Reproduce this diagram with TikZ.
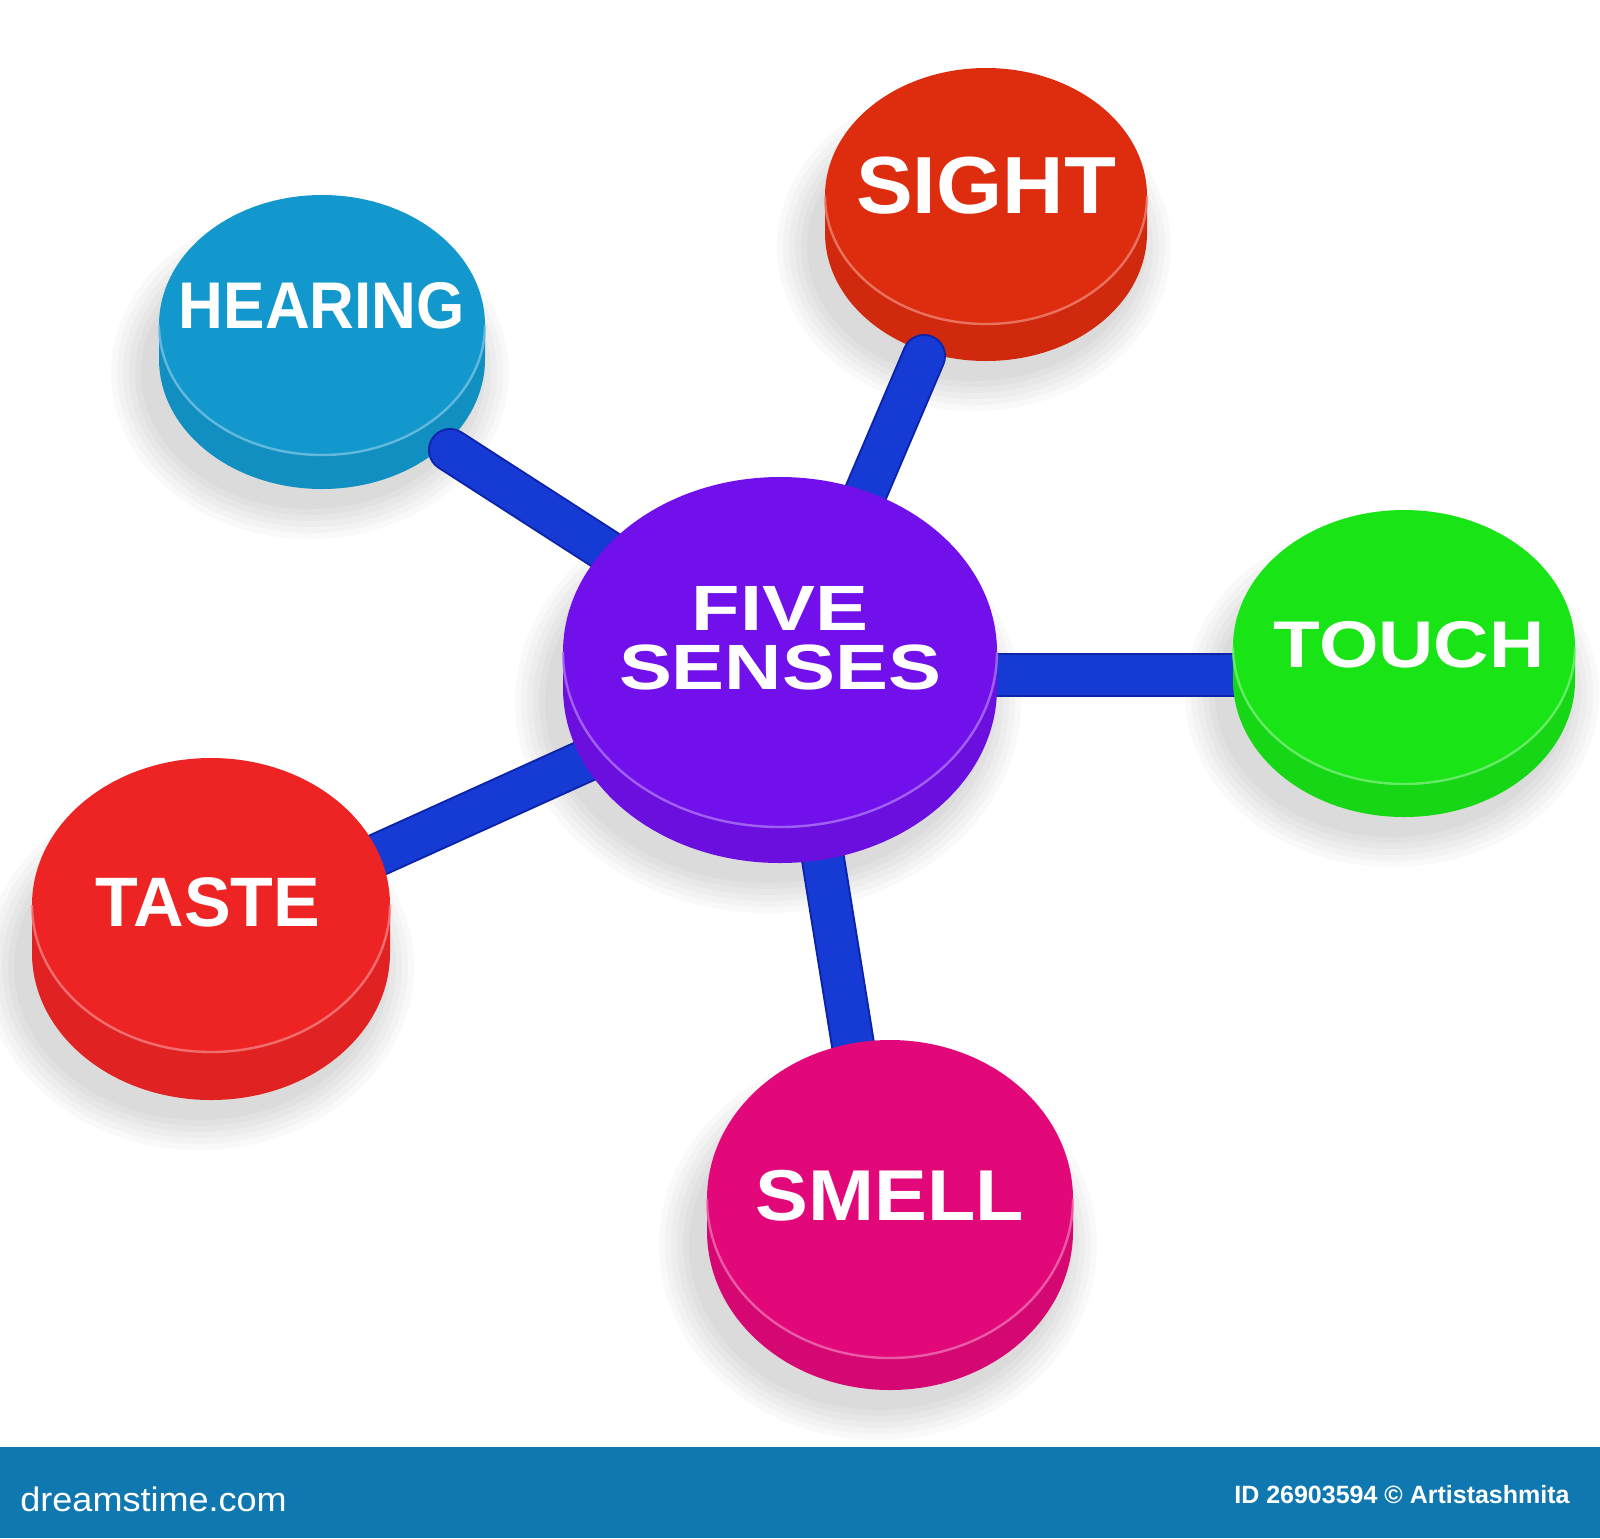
\documentclass[tikz,border=0pt]{standalone}
\usepackage{fontspec}
\usepackage{graphicx}
\setmainfont{Liberation Sans}
\usetikzlibrary{shapes.geometric}

\pgfdeclarelayer{back}
\pgfdeclarelayer{far}
\pgfdeclarelayer{rods}
\pgfdeclarelayer{near}
\pgfsetlayers{back,far,rods,near,main}

\definecolor{hearingblue}{RGB}{18,152,204}
\definecolor{sightred}{RGB}{222,44,14}
\definecolor{fivepurple}{RGB}{114,16,236}
\definecolor{touchgreen}{RGB}{24,228,22}
\definecolor{tastered}{RGB}{238,36,36}
\definecolor{smellpink}{RGB}{226,8,122}
\definecolor{rodblue}{RGB}{22,58,212}
\definecolor{rodedge}{RGB}{12,36,170}
\definecolor{barblue}{RGB}{16,120,176}

\tikzset{
  face/.style={ellipse, inner sep=0pt, outer sep=0pt},
  rim/.style={line width=1.2pt, opacity=0.75},
  sense/.style={text=white, align=center, inner sep=0pt},
  rod/.style={draw=rodedge, double=rodblue, double distance=20pt, line width=1pt, line cap=round},
  bartext/.style={text=white, inner sep=0pt},
}

% [label options]{name}{x,y}{rx}{ry}{depth}{colour}{layer}{text}
\newcommand{\sensedisc}[9][]{%
  \begin{pgfonlayer}{back}
    \foreach \s in {1,...,6}
      \fill[black, opacity=0.022] ([shift={(-12,#6+14)}]#3) ellipse [x radius={(#4+\s*6)*0.5pt}, y radius={(#5+\s*6)*0.5pt}];
  \end{pgfonlayer}
  \begin{pgfonlayer}{#8}
    \fill[#7!94!black] ([shift={(-#4,0)}]#3) -- ++(0,#6)
      arc[start angle=180, end angle=360, x radius={#4*0.5pt}, y radius={#5*0.5pt}] -- ++(0,-#6) -- cycle;
    \node[face, fill=#7, minimum width={#4*1pt}, minimum height={#5*1pt},
      label={[sense, #1]center:#9}] (#2) at (#3) {};
    \draw[rim, draw=#7!55!white] ([shift={(-#4,0)}]#3)
      arc[start angle=180, end angle=360, x radius={#4*0.5pt}, y radius={#5*0.5pt}];
  \end{pgfonlayer}
}

\begin{document}
\begin{tikzpicture}[x=0.5pt, y=-0.5pt]
  \useasboundingbox (0,0) rectangle (1600,1538);
  \begin{pgfonlayer}{back}
    \fill[white] (0,0) rectangle (1600,1538);
  \end{pgfonlayer}

  % the senses, far ones first
  \sensedisc[font=\fontsize{33}{33}\selectfont\bfseries, yshift=9.5pt]{hearing}{322,325}{163}{130}{34}{hearingblue}{far}{\scalebox{0.94}[1]{HEARING}}
  \sensedisc[font=\fontsize{40.5}{40.5}\selectfont\bfseries, yshift=5pt]{sight}{986,196}{161}{128}{37}{sightred}{far}{\scalebox{1.05}[1]{SIGHT}}
  \sensedisc[font=\fontsize{32}{29.5}\selectfont\bfseries, yshift=7pt]{five}{780,652}{217}{175}{36}{fivepurple}{near}{\scalebox{1.24}[1]{FIVE}\\\scalebox{1.24}[1]{SENSES}}
  \sensedisc[font=\fontsize{33}{33}\selectfont\bfseries, xshift=2.5pt, yshift=1pt]{touch}{1404,647}{171}{137}{33}{touchgreen}{near}{\scalebox{1.16}[1]{TOUCH}}
  \sensedisc[font=\fontsize{35}{35}\selectfont\bfseries, xshift=-1.5pt, yshift=1.5pt]{taste}{211,905}{179}{147}{48}{tastered}{near}{TASTE}
  \sensedisc[font=\fontsize{36}{36}\selectfont\bfseries, yshift=1.5pt]{smell}{890,1199}{183}{159}{32}{smellpink}{near}{\scalebox{1.1}[1]{SMELL}}

  % rods to the middle
  \begin{pgfonlayer}{rods}
    \draw[rod] ([shift={(128,125)}]hearing.center) -- ([shift={(-80,-41)}]five.center);
    \draw[rod] ([shift={(-62,160)}]sight.center) -- ([shift={(57,-92)}]five.center);
    \draw[rod] ([shift={(120,23)}]five.center) -- ([shift={(-104,28)}]touch.center);
    \draw[rod] ([shift={(-100,66)}]five.center) -- ([shift={(89,-15)}]taste.center);
    \draw[rod] ([shift={(27,108)}]five.center) -- ([shift={(-20,-49)}]smell.center);
  \end{pgfonlayer}

  % bottom bar
  \fill[barblue] (0,1447) rectangle (1600,1538);
  \node[bartext, anchor=west, font=\fontsize{17}{17}\selectfont] (site) at (20,1499) {\scalebox{1.06}[1]{dreamstime.com}};
  \node[bartext, anchor=east, font=\fontsize{12.5}{12.5}\selectfont\bfseries] (credit) at (1570,1495) {ID 26903594 © Artistashmita};
\end{tikzpicture}
\end{document}
